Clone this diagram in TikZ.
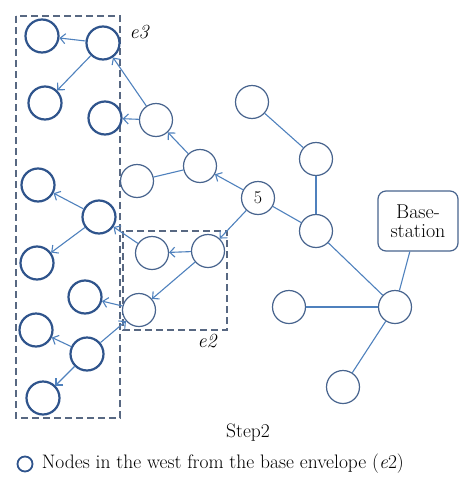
\documentclass[tikz,border=0pt]{standalone}
\usepackage{fontspec}
\usetikzlibrary{arrows.meta, positioning}
\definecolor{westBlue}{RGB}{47,84,140}
\definecolor{edgeBlue}{RGB}{79,129,189}
\definecolor{treeBlue}{RGB}{72,100,142}
\definecolor{boxGrey}{RGB}{88,104,130}
\tikzset{
    westNode/.style={circle, draw=westBlue, line width=2.2pt, fill=white, inner sep=0pt, minimum size=33pt},
    plainNode/.style={circle, draw=treeBlue, line width=1.2pt, fill=white, inner sep=0pt, minimum size=33pt, font=\fontsize{18}{20}\selectfont},
    baseBox/.style={rectangle, rounded corners=8pt, draw=treeBlue, line width=1.2pt, fill=white, minimum width=80pt, minimum height=60pt, inner sep=2pt, align=center, font=\fontsize{20}{19}\selectfont},
    envEdge/.style={-{Straight Barb[length=5pt, width=10pt]}, draw=edgeBlue, line width=1.1pt},
    treeEdge/.style={draw=edgeBlue, line width=1.1pt},
    envBox/.style={draw=boxGrey, line width=1.2pt, dash pattern=on 7pt off 4pt},
    envLabel/.style={font=\fontsize{20}{22}\selectfont\itshape},
    captionText/.style={font=\fontsize{19.5}{22}\selectfont},
}
\newcommand{\drawEnv}[2]{
    \draw[envEdge] (#1) -- (#2);
}
\newcommand{\drawTree}[2]{
    \draw[treeEdge] (#1) -- (#2);
}

\begin{document}
\begin{tikzpicture}[x=1pt, y=-1pt]
        \useasboundingbox (0,0) rectangle (474,501);

        % envelopes
        \draw[envBox] (16,16) rectangle (120,418);
        \draw[envBox] (123,231) rectangle (227,330);
        \node[envLabel] (e3) at (139,32) {e3};
        \node[envLabel] (e2) at (207,341) {e2};

        % nodes in the west
        \node[westNode] (w1) at (42,36) {};
        \node[westNode] (w2) at (103,43) {};
        \node[westNode] (w3) at (45,103) {};
        \node[westNode] (w4) at (105,118) {};
        \node[westNode] (w5) at (38,185) {};
        \node[westNode] (w6) at (99,217) {};
        \node[westNode] (w7) at (37,263) {};
        \node[westNode] (w8) at (85,297) {};
        \node[westNode] (w9) at (36,330) {};
        \node[westNode] (w10) at (87,354) {};
        \node[westNode] (w11) at (43,398) {};

        % other nodes
        \node[plainNode] (t1) at (156,120) {};
        \node[plainNode] (t2) at (200,166) {};
        \node[plainNode] (t3) at (137,181) {};
        \node[plainNode] (t4) at (152,253) {};
        \node[plainNode] (t5) at (208,251) {};
        \node[plainNode] (t6) at (139,310) {};
        \node[plainNode] (n5) at (258,198) {5};
        \node[plainNode] (a1) at (252,102) {};
        \node[plainNode] (a2) at (316,159) {};
        \node[plainNode] (a3) at (316,231) {};
        \node[plainNode] (a4) at (395,307) {};
        \node[plainNode] (a5) at (289,307) {};
        \node[plainNode] (a6) at (343,387) {};
        \node[baseBox] (base) at (418,221) {Base-\\station};

        % envelope arrows
        \drawEnv{w2}{w1}
        \drawEnv{w2}{w3}
        \drawEnv{t1}{w2}
        \drawEnv{t1}{w4}
        \drawEnv{t2}{t1}
        \drawEnv{n5}{t2}
        \drawEnv{w6}{w5}
        \drawEnv{w6}{w7}
        \drawEnv{t4}{w6}
        \drawEnv{t5}{t4}
        \drawEnv{t5}{t6}
        \drawEnv{n5}{t5}
        \drawEnv{t6}{w8}
        \drawEnv{w10}{t6}
        \drawEnv{w10}{w9}
        \drawEnv{w10}{w11}

        % tree links
        \drawTree{t3}{t2}
        \drawTree{a1}{a2}
        \drawTree{a2}{a3}
        \drawTree{n5}{a3}
        \drawTree{a3}{a4}
        \drawTree{a5}{a4}
        \drawTree{a6}{a4}
        \drawTree{base}{a4}

        % caption and legend
        \node[captionText] (step) at (248,433) {Step2};
        \node[westNode, minimum size=15pt, line width=1.8pt] (legend) at (25,464) {};
        \node[right=5pt of legend, captionText] (legendText) {Nodes in the west from the base envelope (\textit{e}2)};

    \end{tikzpicture}
\end{document}
